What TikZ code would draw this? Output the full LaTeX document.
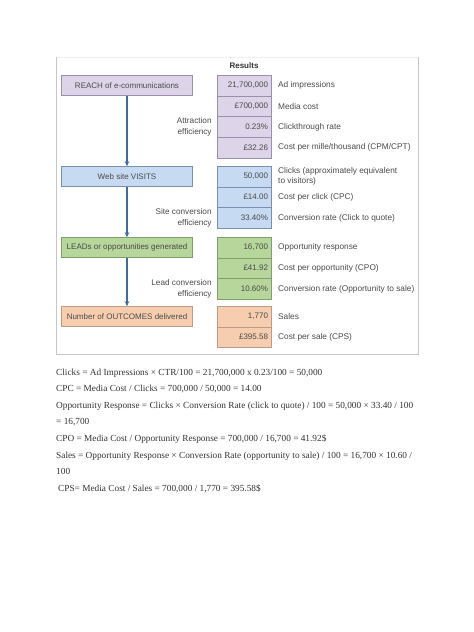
\documentclass[tikz,border=0pt]{standalone}
\usepackage{fontspec}
\setmainfont{Liberation Serif}
\newfontfamily\diagfont{Liberation Sans}
\usetikzlibrary{arrows.meta,positioning}

\definecolor{txtgray}{HTML}{4A4A4A}
\definecolor{flowblue}{HTML}{3D6CA3}
\definecolor{purplefill}{HTML}{DDD4E9}
\definecolor{purpleline}{HTML}{9A90AE}
\definecolor{bluefill}{HTML}{C6DAF1}
\definecolor{blueline}{HTML}{7890AE}
\definecolor{greenfill}{HTML}{B6D69B}
\definecolor{greenline}{HTML}{7FA06A}
\definecolor{orangefill}{HTML}{F6CEAF}
\definecolor{orangeline}{HTML}{BC9C86}

\begin{document}
\begin{tikzpicture}[x=1pt,y=-1pt,
  stage/.style={minimum width=131pt,minimum height=20pt,inner sep=0pt,
    font=\diagfont\fontsize{8}{9.6}\selectfont,text=txtgray},
  cell/.style={minimum height=20.8pt,text width=48pt,align=right,inner sep=3pt,
    font=\diagfont\fontsize{8}{9.6}\selectfont,text=txtgray},
  desc/.style={anchor=west,align=left,inner sep=0pt,
    font=\diagfont\fontsize{8.3}{10.5}\selectfont,text=txtgray},
  eff/.style={align=right,inner sep=0pt,
    font=\diagfont\fontsize{8.2}{10.5}\selectfont,text=txtgray},
  flow/.style={draw=flowblue,line width=1.1pt,-{Stealth[length=5pt,width=4.5pt]}},
  calc/.style={anchor=base west,inner sep=0pt,font=\fontsize{9.3}{11}\selectfont,text=black!80}]
\useasboundingbox (0,0) rectangle (474,632);

% frame
\draw[gray!12] (56,57) -- (418,57);
\draw[gray!45,line width=0.8pt] (56,57) -- (56,354) -- (418,354) -- (418,57);

\node[font=\diagfont\bfseries\fontsize{8}{9.6}\selectfont,text=black!80] (results) at (244,66) {Results};

% stages
\node[stage,fill=purplefill,draw=purpleline] (reach) at (127,85.4) {REACH of e-communications};
\node[stage,fill=bluefill,draw=blueline] (visits) at (127,176.4) {Web site VISITS};
\node[stage,fill=greenfill,draw=greenline] (leads) at (127,247.4) {LEADs or opportunities generated};
\node[stage,fill=orangefill,draw=orangeline] (outcomes) at (127,316.4) {Number of OUTCOMES delivered};

\draw[flow] (reach) -- (visits);
\draw[flow] (visits) -- (leads);
\draw[flow] (leads) -- (outcomes);

% results column
\node[cell,fill=purplefill,draw=purpleline] (imp) at (244,85.4) {21,700,000};
\node[cell,fill=purplefill,draw=purpleline] (media) at (244,106.2) {£700,000};
\node[cell,fill=purplefill,draw=purpleline] (ctr) at (244,127) {0.23\%};
\node[cell,fill=purplefill,draw=purpleline] (cpm) at (244,147.8) {£32.26};

\node[cell,fill=bluefill,draw=blueline] (clicks) at (244,176.4) {50,000};
\node[cell,fill=bluefill,draw=blueline] (cpc) at (244,197.2) {£14.00};
\node[cell,fill=bluefill,draw=blueline] (quote) at (244,218) {33.40\%};

\node[cell,fill=greenfill,draw=greenline] (opp) at (244,247.4) {16,700};
\node[cell,fill=greenfill,draw=greenline] (cpo) at (244,268.2) {£41.92};
\node[cell,fill=greenfill,draw=greenline] (sale) at (244,289) {10.60\%};

\node[cell,fill=orangefill,draw=orangeline] (sales) at (244,316.4) {1,770};
\node[cell,fill=orangefill,draw=orangeline] (cps) at (244,337.2) {£395.58};

% descriptions
\node[desc] (impdesc) at (278,85.4) {Ad impressions};
\node[desc] (mediadesc) at (278,106.2) {Media cost};
\node[desc] (ctrdesc) at (278,127) {Clickthrough rate};
\node[desc] (cpmdesc) at (278,147.8) {Cost per mille/thousand (CPM/CPT)};
\node[desc] (clicksdesc) at (278,176.4) {Clicks (approximately equivalent\\to visitors)};
\node[desc] (cpcdesc) at (278,197.2) {Cost per click (CPC)};
\node[desc] (quotedesc) at (278,218) {Conversion rate (Click to quote)};
\node[desc] (oppdesc) at (278,247.4) {Opportunity response};
\node[desc] (cpodesc) at (278,268.2) {Cost per opportunity (CPO)};
\node[desc] (saledesc) at (278,289) {Conversion rate (Opportunity to sale)};
\node[desc] (salesdesc) at (278,316.4) {Sales};
\node[desc] (cpsdesc) at (278,337.2) {Cost per sale (CPS)};

% efficiencies
\node[eff,left=5pt of ctr] (attract) {Attraction\\efficiency};
\node[eff,left=5pt of quote] (siteconv) {Site conversion\\efficiency};
\node[eff,left=5pt of sale] (leadconv) {Lead conversion\\efficiency};

% calculations
\node[calc] (clicksline) at (56,375) {Clicks = Ad Impressions × CTR/100 = 21,700,000 x 0.23/100 = 50,000};
\node[calc] (cpcline) at (56,391.6) {CPC = Media Cost / Clicks = 700,000 / 50,000 = 14.00};
\node[calc] (oppline) at (56,408.2) {Opportunity Response = Clicks × Conversion Rate (click to quote) / 100 = 50,000 × 33.40 / 100};
\node[calc] (oppline2) at (56,424.8) {= 16,700};
\node[calc] (cpoline) at (56,441.4) {CPO = Media Cost / Opportunity Response = 700,000 / 16,700 = 41.92\$};
\node[calc] (salesline) at (56,458) {Sales = Opportunity Response × Conversion Rate (opportunity to sale) / 100 = 16,700 × 10.60 /};
\node[calc] (salesline2) at (56,474.6) {100};
\node[calc] (cpsline) at (58,491.2) {CPS= Media Cost / Sales = 700,000 / 1,770 = 395.58\$};
\end{tikzpicture}
\end{document}
